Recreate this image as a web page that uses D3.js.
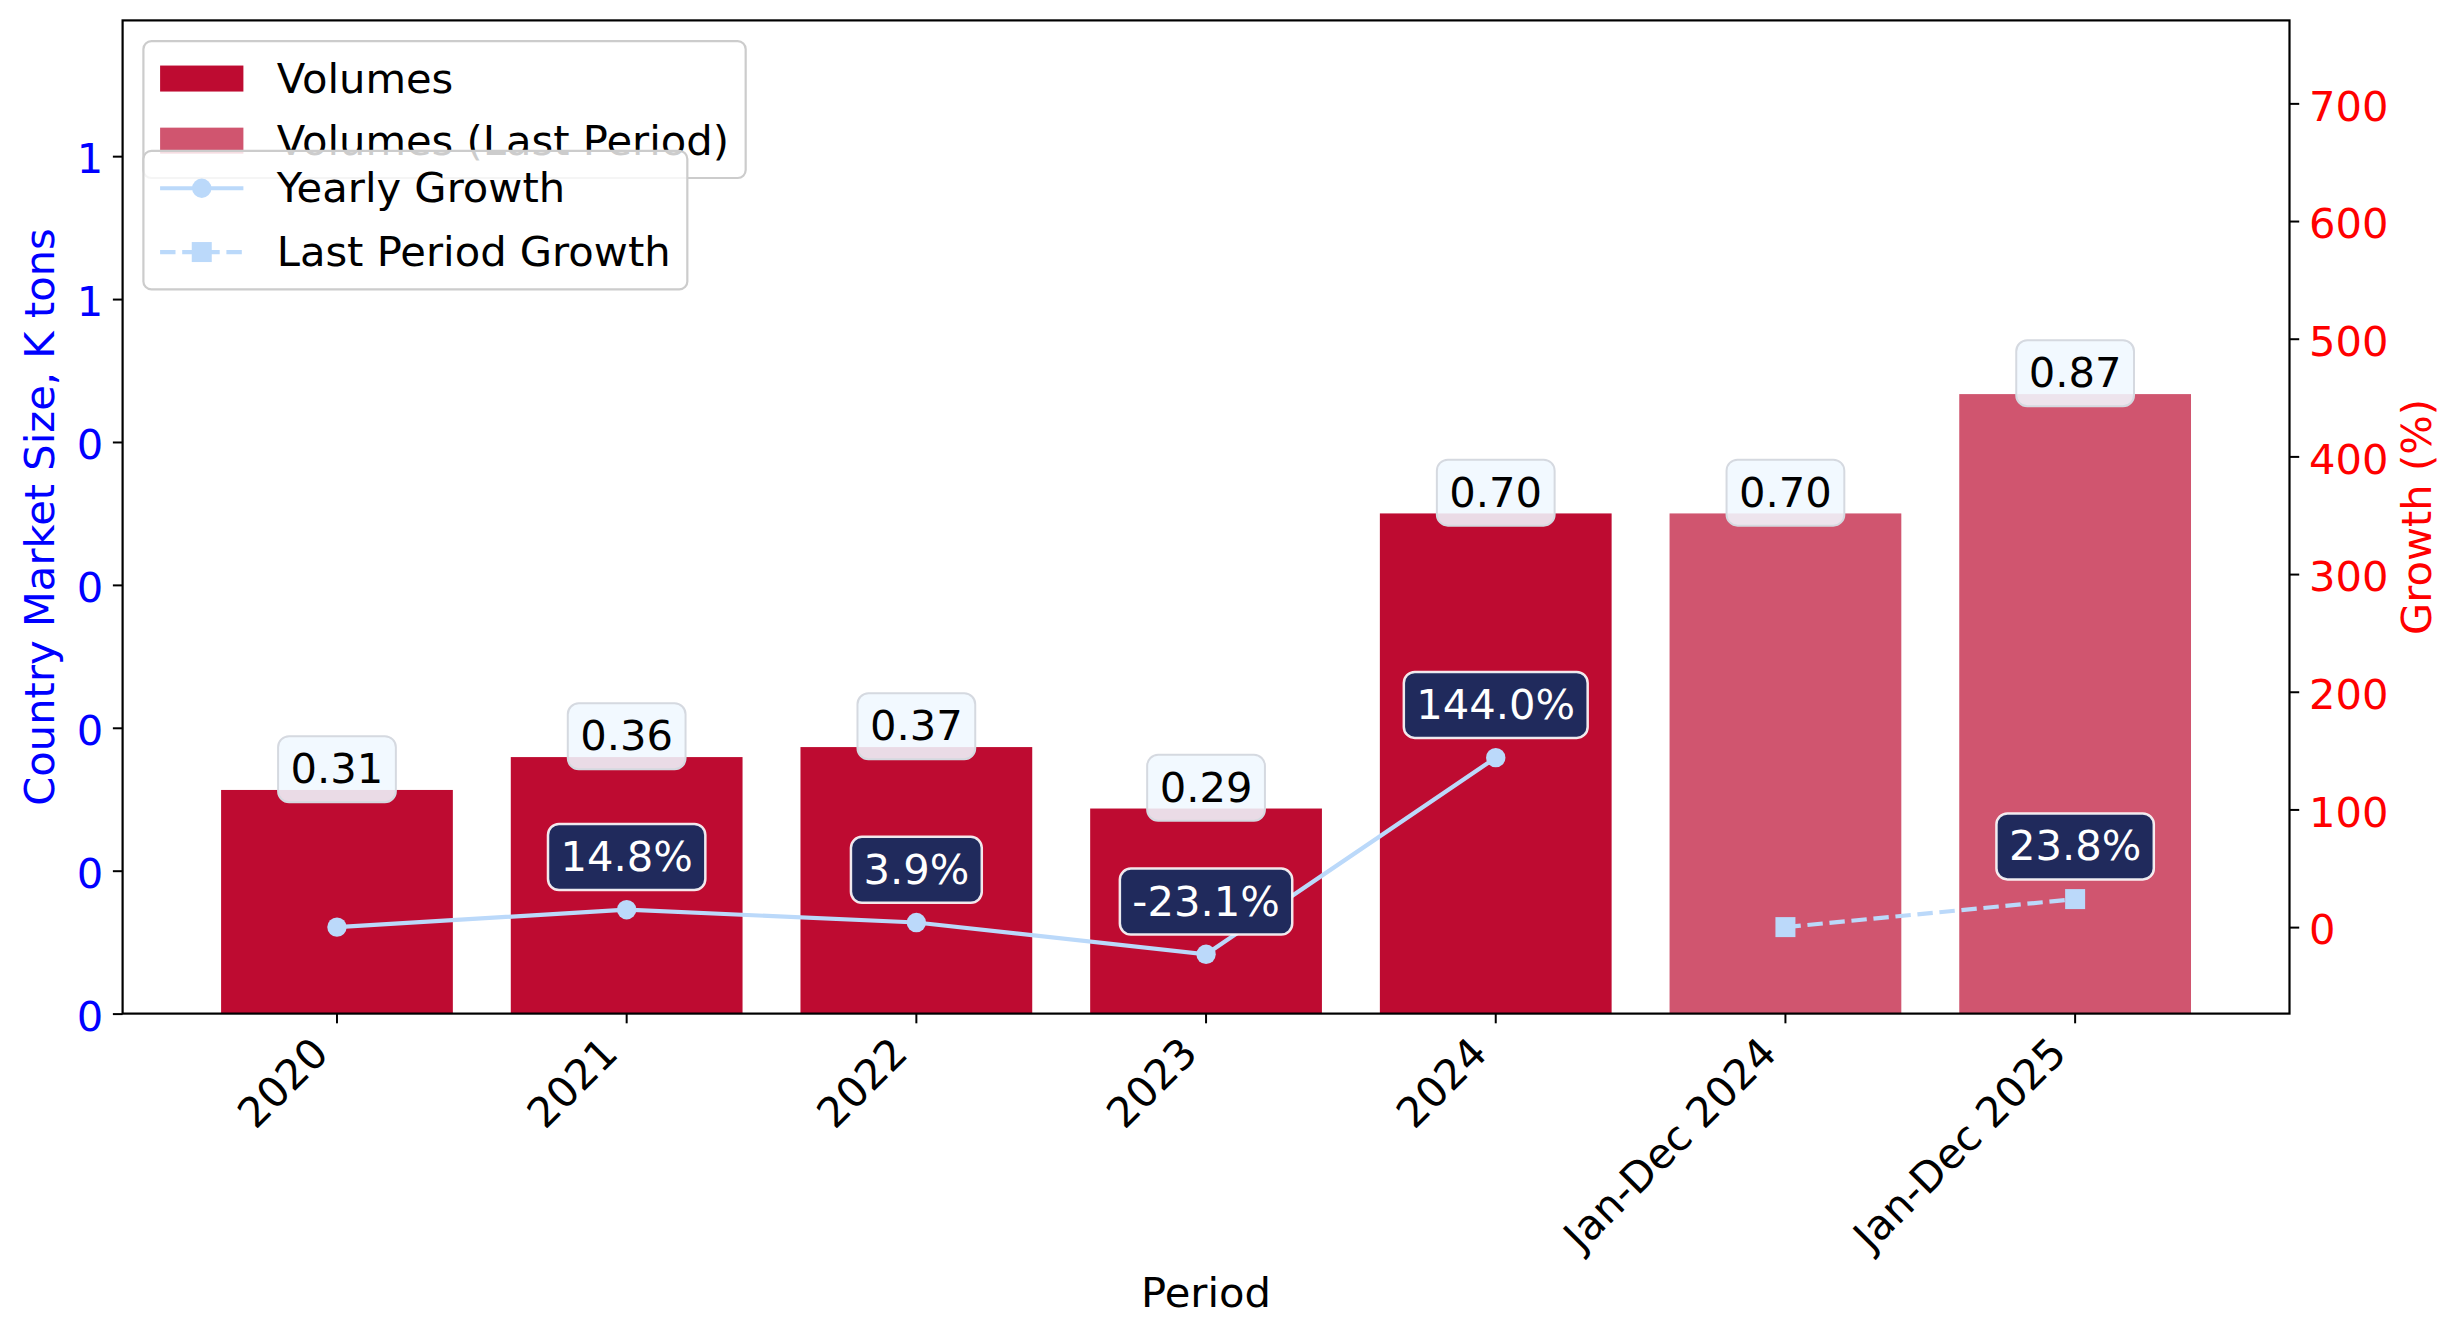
<!DOCTYPE html>
<html><head><meta charset="utf-8">
<script src="https://cdn.jsdelivr.net/npm/d3@7"></script>
<style>html,body{margin:0;padding:0;background:#fff;} svg{display:block;} text{font-family:"DejaVu Sans",sans-serif;}</style>
</head><body><svg id="chart" width="2464" height="1338"></svg>
<script>
// ---- data ----
const periods = ["2020","2021","2022","2023","2024","Jan-Dec 2024","Jan-Dec 2025"];
const volumes = [0.313,0.359,0.373,0.287,0.700,0.700,0.867];
const isLastPeriod = [false,false,false,false,false,true,true];
const yearlyPeriods = ["2020","2021","2022","2023","2024"];
const yearlyGrowth = [0,14.8,3.9,-23.1,144.0];
const lastPeriods = ["Jan-Dec 2024","Jan-Dec 2025"];
const lastGrowth = [0,23.8];
const leftTicks = [0,0.2,0.4,0.6,0.8,1.0,1.2];
const rightTicks = [0,100,200,300,400,500,600,700];
const legendBars = ["Volumes","Volumes (Last Period)"];
const legendLines = ["Yearly Growth","Last Period Growth"];

// ---- styles ----
const FS = 41.67;
const C_BAR = "#be0b31", C_BAR_LP = "#d0556f", C_LINE = "#bbd9fa", C_NAVY = "#202a5c";
const L = 122.6, R = 2289.5, T = 20.4, B = 1013.6;
const TICK = 9.72, PAD = 9.72;
const TS = 3; // text baseline shift

const svg = d3.select("#chart");

const x = d3.scaleBand().domain(periods).range([L, R]).paddingInner(0.2).paddingOuter(0.34);
const yL = d3.scaleLinear().domain([0, 1.39]).range([B, T]);
const yR = d3.scaleLinear().domain([-73.5, 770.5]).range([B, T]);
const cx = p => x(p) + x.bandwidth() / 2;

// bars
svg.append("g").selectAll("rect").data(periods).join("rect")
  .attr("x", d => x(d)).attr("width", x.bandwidth())
  .attr("y", (d, i) => yL(volumes[i])).attr("height", (d, i) => B - yL(volumes[i]))
  .attr("fill", (d, i) => isLastPeriod[i] ? C_BAR_LP : C_BAR);

// volume labels
const volG = svg.append("g");
periods.forEach((p, i) => {
  const g = volG.append("g");
  const top = yL(volumes[i]);
  const t = g.append("text").attr("x", cx(p)).attr("y", top - 9.8 + TS)
    .attr("text-anchor", "middle").attr("font-size", FS).attr("fill", "#000")
    .text(volumes[i].toFixed(2));
  const w = t.node().getComputedTextLength() + 25;
  g.insert("rect", "text").attr("x", cx(p) - w / 2).attr("y", top - 20.8 - 33).attr("width", w).attr("height", 66)
    .attr("rx", 11).attr("fill", "#f0f8ff").attr("fill-opacity", 0.88)
    .attr("stroke", "#d5d9e0").attr("stroke-width", 2);
});

// lines
const line = d3.line().x(d => cx(d[0])).y(d => yR(d[1]));
const yData = yearlyPeriods.map((p, i) => [p, yearlyGrowth[i]]);
const lData = lastPeriods.map((p, i) => [p, lastGrowth[i]]);
svg.append("path").attr("d", line(yData)).attr("fill", "none").attr("stroke", C_LINE).attr("stroke-width", 4.2);
svg.append("g").selectAll("circle").data(yData).join("circle")
  .attr("cx", d => cx(d[0])).attr("cy", d => yR(d[1])).attr("r", 9.7).attr("fill", C_LINE);
svg.append("path").attr("d", line(lData)).attr("fill", "none").attr("stroke", C_LINE).attr("stroke-width", 4.2)
  .attr("stroke-dasharray", "15.4,6.7");
svg.append("g").selectAll("rect").data(lData).join("rect")
  .attr("x", d => cx(d[0]) - 10).attr("y", d => yR(d[1]) - 10).attr("width", 20).attr("height", 20).attr("fill", C_LINE);

// growth labels
const grG = svg.append("g");
[...yData, ...lData].forEach(d => {
  if (d[1] === 0) return;
  const g = grG.append("g");
  const py = yR(d[1]);
  const c = py - 52.7;
  const t = g.append("text").attr("x", cx(d[0])).attr("y", c + 11 + TS)
    .attr("text-anchor", "middle").attr("font-size", FS).attr("fill", "#fff")
    .text(d[1].toFixed(1) + "%");
  const w = t.node().getComputedTextLength() + 25;
  g.insert("rect", "text").attr("x", cx(d[0]) - w / 2).attr("y", c - 33).attr("width", w).attr("height", 66)
    .attr("rx", 11).attr("fill", C_NAVY).attr("stroke", "#fff").attr("stroke-opacity", 0.9).attr("stroke-width", 2.5);
});

// axes
const axL = svg.append("g").attr("transform", `translate(${L},0)`)
  .call(d3.axisLeft(yL).tickValues(leftTicks).tickFormat(v => String(Math.trunc(v + 1e-9))).tickSize(TICK).tickPadding(PAD).tickSizeOuter(0));
axL.select(".domain").remove();
axL.selectAll("line").attr("stroke", "#000").attr("stroke-width", 2);
axL.selectAll("text").attr("font-size", FS).attr("fill", "#0000ff").attr("font-family", "DejaVu Sans").attr("dy", "0.4em");

const axR = svg.append("g").attr("transform", `translate(${R},0)`)
  .call(d3.axisRight(yR).tickValues(rightTicks).tickSize(TICK).tickPadding(PAD).tickSizeOuter(0));
axR.select(".domain").remove();
axR.selectAll("line").attr("stroke", "#000").attr("stroke-width", 2);
axR.selectAll("text").attr("font-size", FS).attr("fill", "#ff0000").attr("font-family", "DejaVu Sans").attr("dy", "0.4em");

const axB = svg.append("g").attr("transform", `translate(0,${B})`)
  .call(d3.axisBottom(x).tickSize(TICK).tickPadding(PAD).tickSizeOuter(0));
axB.select(".domain").remove();
axB.selectAll("line").attr("stroke", "#000").attr("stroke-width", 2);
axB.selectAll("text").attr("font-size", FS).attr("fill", "#000").attr("font-family", "DejaVu Sans")
  .attr("y", null).attr("dy", null).attr("text-anchor", "end")
  .attr("transform", `translate(-6.6,${TICK + PAD + 22.4}) rotate(-45)`);

// frame
svg.append("rect").attr("x", L).attr("y", T).attr("width", R - L).attr("height", B - T)
  .attr("fill", "none").attr("stroke", "#000").attr("stroke-width", 2.2);

// axis labels
svg.append("text").attr("transform", `translate(54,${(T + B) / 2}) rotate(-90)`).attr("text-anchor", "middle")
  .attr("font-size", FS).attr("fill", "#0000ff").text("Country Market Size, K tons");
svg.append("text").attr("transform", `translate(2431,${(T + B) / 2}) rotate(-90)`).attr("text-anchor", "middle")
  .attr("font-size", FS).attr("fill", "#ff0000").text("Growth (%)");
svg.append("text").attr("x", (L + R) / 2).attr("y", 1307).attr("text-anchor", "middle")
  .attr("font-size", FS).attr("fill", "#000").text("Period");

// legends
function legend(y0, labels, drawHandle, rowGap) {
  const g = svg.append("g");
  const frame = g.append("rect");
  const x0 = 143.4, bp = 16.7, hl = 83.3, htp = 33.3, rowH = 41.3, ls = rowGap;
  let maxW = 0;
  labels.forEach((lab, i) => {
    const cy = y0 + bp + rowH / 2 + i * (rowH + ls);
    drawHandle(g, i, x0 + bp, x0 + bp + hl, cy);
    const t = g.append("text").attr("x", x0 + bp + hl + htp).attr("y", cy + 11 + TS)
      .attr("font-size", FS).attr("fill", "#000").text(lab);
    maxW = Math.max(maxW, t.node().getComputedTextLength());
  });
  frame.attr("x", x0).attr("y", y0).attr("width", bp + hl + htp + maxW + bp)
    .attr("height", 2 * bp + 2 * rowH + ls).attr("rx", 8)
    .attr("fill", "#fff").attr("fill-opacity", 0.8).attr("stroke", "#cccccc").attr("stroke-width", 2.2);
}
legend(41.2, legendBars, (g, i, a, b, cy) => {
  g.append("rect").attr("x", a).attr("y", cy - 13).attr("width", b - a).attr("height", 26)
    .attr("fill", i === 0 ? C_BAR : C_BAR_LP);
}, 20.8);
legend(150.9, legendLines, (g, i, a, b, cy) => {
  g.append("line").attr("x1", a).attr("x2", b).attr("y1", cy).attr("y2", cy)
    .attr("stroke", C_LINE).attr("stroke-width", 4.2).attr("stroke-dasharray", i === 1 ? "15.4,6.7" : null);
  const m = (a + b) / 2;
  if (i === 0) g.append("circle").attr("cx", m).attr("cy", cy).attr("r", 9.7).attr("fill", C_LINE);
  else g.append("rect").attr("x", m - 10).attr("y", cy - 10).attr("width", 20).attr("height", 20).attr("fill", C_LINE);
}, 22.5);
</script></body></html>
